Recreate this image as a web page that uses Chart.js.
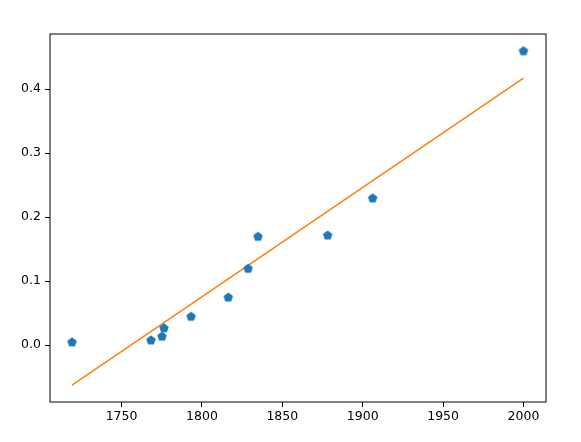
<!DOCTYPE html>
<html>
<head>
<script src="https://cdn.jsdelivr.net/npm/chart.js@4"></script>
<style>body{margin:0;background:#fff}</style>
</head>
<body>
<div style="width:581px;height:442px"><canvas id="chart"></canvas></div>
<script>
const years = [1719.2, 1768.3, 1775.2, 1776.4, 1793.2, 1816.4, 1828.7, 1834.9, 1878.2, 1906.2, 2000];
const values = [0.005, 0.008, 0.014, 0.027, 0.045, 0.075, 0.12, 0.17, 0.172, 0.23, 0.46];
const fitX = [1719.2, 2000];
const fitY = [-0.0625, 0.417];
const xTicks = [1750, 1800, 1850, 1900, 1950, 2000];
const yTicks = [0.0, 0.1, 0.2, 0.3, 0.4];

// pentagon marker
var pent = document.createElement('canvas');
pent.width = 12; pent.height = 12;
var pc = pent.getContext('2d');
pc.fillStyle = '#1f77b4';
pc.beginPath();
for (var i = 0; i < 5; i++) {
    var a = -Math.PI / 2 + i * 2 * Math.PI / 5;
    var px = 6 + 5 * Math.cos(a), py = 6.5 + 5 * Math.sin(a);
    if (i === 0) pc.moveTo(px, py); else pc.lineTo(px, py);
}
pc.closePath();
pc.fill();

const frame = {
    id: 'frame',
    afterDraw(c) {
        var a = c.chartArea, g = c.ctx;
        g.save();
        g.strokeStyle = '#000';
        g.lineWidth = 1;
        g.strokeRect(a.left, a.top, a.right - a.left, a.bottom - a.top);
        g.restore();
    }
};

const axisGrid = { drawOnChartArea: false, drawTicks: true, tickLength: 5, color: '#000' };
const tickFont = { family: 'DejaVu Sans', size: 12.5 };

new Chart(document.getElementById('chart'), {
    type: 'scatter',
    data: {
        datasets: [{
            data: years.map((x, i) => ({ x: x, y: values[i] })),
            pointStyle: pent,
            pointRadius: 5
        }, {
            type: 'line',
            data: fitX.map((x, i) => ({ x: x, y: fitY[i] })),
            borderColor: '#ff7f0e',
            borderWidth: 1.5,
            pointRadius: 0,
            fill: false
        }]
    },
    options: {
        responsive: true,
        maintainAspectRatio: false,
        animation: false,
        layout: { padding: { top: 34, right: 35, left: 0, bottom: 0 } },
        plugins: { legend: { display: false }, tooltip: { enabled: false } },
        scales: {
            x: {
                type: 'linear',
                min: 1705.5,
                max: 2014,
                grid: axisGrid,
                border: { display: false },
                afterBuildTicks: s => { s.ticks = xTicks.map(v => ({ value: v })); },
                afterFit: s => { s.height = 40; },
                ticks: { color: '#000', font: tickFont, maxRotation: 0, padding: 2, callback: v => String(v) }
            },
            y: {
                min: -0.089,
                max: 0.486,
                grid: axisGrid,
                border: { display: false },
                afterBuildTicks: s => { s.ticks = yTicks.map(v => ({ value: v })); },
                afterFit: s => { s.width = 50; },
                ticks: { color: '#000', font: tickFont, padding: 4, callback: v => v.toFixed(1) }
            }
        }
    },
    plugins: [frame]
});
</script>
</body>
</html>
